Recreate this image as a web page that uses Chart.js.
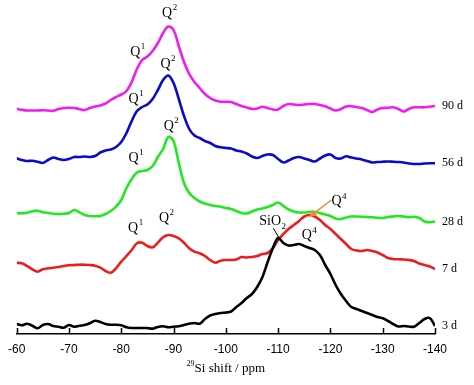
<!DOCTYPE html>
<html>
<head>
<meta charset="utf-8">
<script src="https://cdn.jsdelivr.net/npm/chart.js@4/dist/chart.umd.min.js"></script>
<style>
  html, body { margin: 0; padding: 0; background: #fff; }
  #wrap { width: 474px; height: 385px; position: relative; }
</style>
</head>
<body>
<div id="wrap"><canvas id="c" width="474" height="385"></canvas></div>
<script>
// Chemical shift (ppm) sample positions
const shifts = [-60,-61,-62,-63,-64,-65,-66,-67,-68,-69,-70,-71,-72,-73,-74,-75,-76,-77,-78,-79,
  -80,-81,-82,-83,-84,-85,-86,-87,-88,-89,-90,-91,-92,-93,-94,-95,-96,-97,-98,-99,
  -100,-101,-102,-103,-104,-105,-106,-107,-108,-109,-110,-111,-112,-113,-114,-115,-116,-117,-118,-119,
  -120,-121,-122,-123,-124,-125,-126,-127,-128,-129,-130,-131,-132,-133,-134,-135,-136,-137,-138,-139,-140];

// Stacked spectra (intensity incl. vertical offset, arbitrary units)
const day3 = [10,8.7,10.3,8.3,5.7,9,10,8,7.3,6.3,9,7.3,8.3,9,10.7,13.3,12,10,9.3,9.3,
  8.7,6.7,6,6,6,6,5.3,7,7.7,6.7,7.3,7.7,9,10.3,11,10.3,15,18.5,20,21,
  21.5,22.5,27,31,36,40,47,57,72,86,96,91,88.5,89,90,88,86,84,79,69,
  60,49,40,33,27,25,23,21,19,17,15.7,13,10,7.5,8,7.5,7.3,11,15,16,8];

const day7 = [71.3,70.7,68,64.7,62.3,64.7,65.7,66.3,67,68,68.7,69,69.3,69.3,69,68.3,66.3,63,61.3,65.7,
  72.3,78,84,90.7,91.3,88,86.7,91.3,96.7,99,98,95.7,91.3,85.7,82.3,80.7,78,74,71.3,73.3,
  74,74,74.5,77,76.5,77,78,80,81,86,94,100,105,109,113,117.5,119,117.5,114,109,
  105,100,95,90,85,83.5,83,84,83,81.5,79,76,75,74.7,74.5,74,73,70.5,69,67.5,65];

const day28 = [120.7,120.7,121.3,122.7,123.3,121.7,121,120.3,120,120.3,121,124,121.7,119,118,117.7,118,120,123,127.3,
  134,146,155,161.5,163,164,168,177,185,197,193,171,151,141,136,132.5,130.5,129,128,127.3,
  126,125,123,121,120.5,122.5,124.5,125.5,127,129,131.5,128,124.5,122.5,121.5,121.5,122,122,121,119.5,
  118,115.5,115,116.5,117.5,117.5,117.3,117,116.7,116.2,116,117,117.5,118,117.5,116.7,117.3,116,112.5,111.7,112.5];

const day56 = [175.7,174,173,173.3,172.3,171,174,176.5,175,174,175,177,177,177.5,177,178,181.5,183.5,184.5,187,
  192,201,213,223,227,229.5,235,244,254,258.5,251,235,218,205,198.5,196,193,191,188,186.7,
  186,185.5,183.5,182.5,180.5,177.5,176,178,179.5,179,175,171.5,173.5,176,177,175.5,174,172.5,175.5,178.5,
  179.5,176,175.5,177.7,176.5,175.5,174.5,173,171.5,172,172.3,172.5,172.3,172,171.5,170.5,170,170,170.5,170.7,170.7];

const day90 = [225.2,224.2,223.5,223.5,223.5,223.7,223.5,223.2,225,226,226.2,226,225,224,226,227.5,228.5,230.5,234,237,
  239.5,243,252,265,274,277.5,283,291,301,307.5,304,288,272,260,252,246,240,236,233.5,232.3,
  232.3,232,230,228,226.5,225,225.5,227.3,226,224.5,224.5,228,230,229.5,229,229.5,230,230,229,227.7,
  225.5,223.5,225,227.5,227.8,227,226,224,222,224.5,226,226.2,226.7,225,222.5,225,226.7,226.7,226.7,227.2,228];

const seriesNames = ['3 d','7 d','28 d','56 d','90 d'];
const seriesValues = [day3, day7, day28, day56, day90];
const seriesColors = ['#000000','#ee1c1c','#22e822','#0a0acc','#f01cf0'];

const tickValues = [-60,-70,-80,-90,-100,-110,-120,-130,-140];

// Peak assignments: [base, superscript, subscript, shift, intensity]
const peakLabels = [
  ['Q','2','', -89.2, 321],
  ['Q','1','', -83.1, 282],
  ['Q','2','', -88.9, 270],
  ['Q','1','', -82.8, 235],
  ['Q','2','', -89.5, 208],
  ['Q','1','', -82.8, 176],
  ['Q','1','', -82.7, 106],
  ['Q','2','', -88.6, 116],
  ['SiO','', '2', -108.9, 112.3],
  ['Q','4','', -115.9, 98.3],
  ['Q','4','', -121.6, 132.3]
];
// pointer lines: [fromShift, fromInt, toShift, toInt, colour, arrow]
const pointers = [
  [-120.2, 134, -116.0, 117.3, '#f0883a', true],
  [-109.1, 105.7, -110.2, 95.7, '#000000', false]
];

const datasets = seriesValues.map((vals, i) => ({
  label: seriesNames[i],
  data: shifts.map((s, j) => ({x: s, y: vals[j]})),
  borderColor: seriesColors[i],
  borderWidth: 2.6,
  pointRadius: 0,
  tension: 0.35,
  fill: false
}));

const serif = '"Liberation Serif", "Times New Roman", serif';

const decor = {
  id: 'decor',
  afterDraw(chart) {
    const ctx = chart.ctx;
    const xs = chart.scales.x, ys = chart.scales.y;
    const area = chart.chartArea;
    ctx.save();
    // inward tick marks
    ctx.strokeStyle = '#000';
    ctx.lineWidth = 1.5;
    tickValues.forEach(v => {
      const px = Math.round(xs.getPixelForValue(v)) + 0.5;
      ctx.beginPath();
      ctx.moveTo(px, area.bottom);
      ctx.lineTo(px, area.bottom - 6);
      ctx.stroke();
    });
    // axis title
    ctx.fillStyle = '#000';
    ctx.textBaseline = 'alphabetic';
    ctx.font = '8px ' + serif;
    const sup = '29';
    const main = 'Si shift / ppm';
    const wSup = ctx.measureText(sup).width;
    ctx.font = '13px ' + serif;
    const wMain = ctx.measureText(main).width;
    const cx = (area.left + area.right) / 2;
    let sx = cx - (wSup + wMain) / 2;
    ctx.font = '8px ' + serif;
    ctx.fillText(sup, sx, 366);
    ctx.font = '13px ' + serif;
    ctx.fillText(main, sx + wSup, 372);
    // day labels
    ctx.font = '12px ' + serif;
    ctx.textBaseline = 'middle';
    ctx.textAlign = 'left';
    seriesValues.forEach((vals, i) => {
      const y = ys.getPixelForValue(vals[vals.length - 1]);
      ctx.fillText(seriesNames[i], area.right + 7, y);
    });
    // pointers
    pointers.forEach(p => {
      const x1 = xs.getPixelForValue(p[0]), y1 = ys.getPixelForValue(p[1]);
      const x2 = xs.getPixelForValue(p[2]), y2 = ys.getPixelForValue(p[3]);
      ctx.strokeStyle = p[4];
      ctx.fillStyle = p[4];
      ctx.lineWidth = p[5] ? 1.5 : 1;
      ctx.beginPath();
      ctx.moveTo(x1, y1);
      ctx.lineTo(x2, y2);
      ctx.stroke();
      if (p[5]) {
        const ang = Math.atan2(y2 - y1, x2 - x1);
        const L = 7, W = 3.5;
        ctx.beginPath();
        ctx.moveTo(x2, y2);
        ctx.lineTo(x2 - L * Math.cos(ang) + W * Math.sin(ang), y2 - L * Math.sin(ang) - W * Math.cos(ang));
        ctx.lineTo(x2 - L * Math.cos(ang) - W * Math.sin(ang), y2 - L * Math.sin(ang) + W * Math.cos(ang));
        ctx.closePath();
        ctx.fill();
      }
    });
    // peak labels
    ctx.fillStyle = '#000';
    ctx.textBaseline = 'middle';
    peakLabels.forEach(l => {
      const [base, sp, sb, sh, iv] = l;
      ctx.font = '14px ' + serif;
      const wb = ctx.measureText(base).width;
      ctx.font = '9px ' + serif;
      const ws = ctx.measureText(sp || sb).width;
      const px = xs.getPixelForValue(sh), py = ys.getPixelForValue(iv);
      const x0 = px - (wb + ws) / 2;
      ctx.font = '14px ' + serif;
      ctx.fillText(base, x0, py);
      ctx.font = '9px ' + serif;
      if (sp) ctx.fillText(sp, x0 + wb + 0.5, py - 5);
      if (sb) ctx.fillText(sb, x0 + wb + 0.5, py + 5);
    });
    ctx.restore();
  }
};

new Chart(document.getElementById('c'), {
  type: 'line',
  data: { datasets },
  options: {
    responsive: false,
    animation: false,
    events: [],
    layout: { padding: { left: 16, right: 39, top: 0, bottom: 0 } },
    plugins: { legend: { display: false }, tooltip: { enabled: false } },
    scales: {
      x: {
        type: 'linear',
        min: -140,
        max: -60,
        reverse: true,
        grid: { display: false, drawTicks: false },
        border: { display: true, color: '#000', width: 1.5 },
        ticks: {
          stepSize: 10,
          padding: 8,
          color: '#000',
          font: { family: '"Liberation Sans", Arial, sans-serif', size: 12 },
          maxRotation: 0
        },
        afterFit(scale) { scale.height = 51; }
      },
      y: {
        display: false,
        min: 0,
        max: 334
      }
    }
  },
  plugins: [decor]
});
</script>
</body>
</html>
